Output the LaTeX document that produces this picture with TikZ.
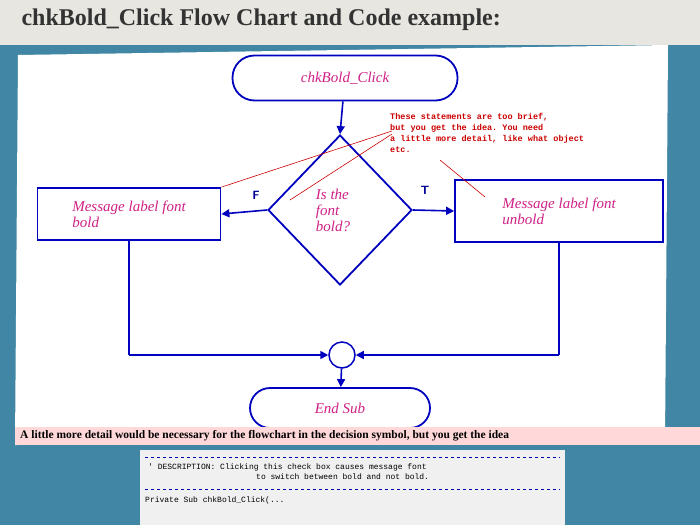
\documentclass[tikz,border=0pt]{standalone}
\usepackage{fontspec}
\setmainfont{Liberation Serif}
\setmonofont{Liberation Mono}
\usetikzlibrary{shapes.geometric,arrows.meta}
\begin{document}
\begin{tikzpicture}[x=1pt,y=-1pt,
  fc/.style={draw=blue!75!black,line width=1.8pt,fill=white},
  lbl/.style={text=magenta!85!black,font=\itshape\fontsize{15}{16}\selectfont},
  arr/.style={blue!75!black,line width=1.6pt,-{Triangle[length=8pt,width=8pt]}},
  ln/.style={blue!75!black,line width=1.6pt},
  note/.style={red!80!black,line width=0.6pt}]
\useasboundingbox (0,0) rectangle (700,525);
\fill[yellow!12!gray!25] (0,0) rectangle (700,45);
\node[anchor=west,font=\bfseries\fontsize{24}{26}\selectfont,text=black!80] (title) at (18,20) {chkBold\_Click Flow Chart and Code example:};
\fill[cyan!55!teal!80!black] (0,45) rectangle (700,525);
\fill[white] (18,55) -- (668,45) -- (665,442) -- (15,445) -- cycle;
\node[fc,rounded corners=22pt,minimum width=225pt,minimum height=45pt,lbl] (start) at (345,78) {chkBold\_Click};
\node[fc,diamond,minimum width=144pt,minimum height=150pt,aspect=1] (dec) at (340,210) {};
\node[lbl,align=left] (dtext) at (333,210) {Is the\\font\\bold?};
\node[fc,minimum width=183pt,minimum height=52pt,lbl,align=left] (lbox) at (129,214) {Message label font\\bold};
\node[fc,minimum width=208pt,minimum height=62pt,lbl,align=left] (rbox) at (559,211) {Message label font\\unbold};
\node[font=\sffamily\bfseries\large,text=blue!60!black] (F) at (256,195) {F};
\node[font=\sffamily\bfseries\large,text=blue!60!black] (T) at (425,190) {T};
\node[fc,circle,minimum size=26pt,line width=1.5pt] (join) at (342,355) {};
\node[fc,rounded corners=20pt,minimum width=180pt,minimum height=40pt,lbl] (end) at (340,408) {End Sub};
\draw[arr] (start) -- (dec.north);
\draw[arr] (dec.west) -- (lbox.east);
\draw[arr] (dec.east) -- (rbox.west);
\draw[ln] (lbox.south) -- (129,355) coordinate (lc);
\draw[arr] (lc) -- (join.west);
\draw[ln] (rbox.south) -- (559,355) coordinate (rc);
\draw[arr] (rc) -- (join.east);
\draw[arr] (join) -- (end);
\node[anchor=north west,align=left,font=\ttfamily\bfseries\fontsize{8.5}{11}\selectfont,text=red!80!black,inner sep=0pt] (note) at (390,113) {These statements are too brief,\\but you get the idea.  You need\\a little more detail, like what object\\etc.};
\draw[note] (392,131) -- (lbox.north east);
\draw[note] (392,134) -- (290,200);
\draw[note] (440,160) -- (485,197);
\fill[pink!60] (15,427) rectangle (700,445);
\node[anchor=west,font=\bfseries\fontsize{11.5}{12}\selectfont,inner sep=0pt] (bar) at (20,436) {A little more detail would be necessary for the flowchart in the decision symbol, but you get the idea};
\fill[gray!12] (140,450) rectangle (565,525);
\draw[blue!70!black,dashed] (145,457) -- (560,457);
\draw[blue!70!black,dashed] (145,489) -- (560,489);
\node[anchor=north west,align=left,font=\ttfamily\fontsize{8}{10}\selectfont,inner sep=0pt] (code) at (148,463) {' DESCRIPTION:  Clicking this check box causes message font\\\hspace*{13.5em}to switch between bold and not bold.};
\node[anchor=north west,font=\ttfamily\fontsize{8}{10}\selectfont,inner sep=0pt] (code2) at (145,496) {Private Sub chkBold\_Click(...};
\end{tikzpicture}
\end{document}
